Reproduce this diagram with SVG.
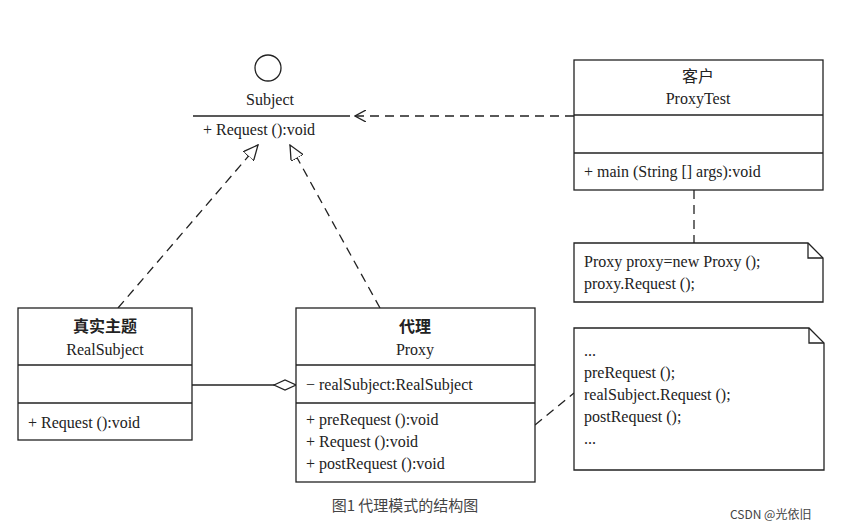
<svg xmlns="http://www.w3.org/2000/svg" width="842" height="530" viewBox="0 0 842 530">
<style>
.b{fill:#fff;stroke:#222;stroke-width:1.3}
.l{stroke:#222;stroke-width:1.3;fill:none}
.d{stroke:#222;stroke-width:1.3;fill:none;stroke-dasharray:9 6}
.t{font-family:'Liberation Serif','Times New Roman','DejaVu Serif','Noto Sans CJK SC',serif;font-size:16px;fill:#222}
.c{text-anchor:middle}
.cap{font-family:'Noto Sans CJK SC','Liberation Sans',sans-serif;fill:#444}
</style>
<defs>
<marker id="open" viewBox="0 0 12 12" refX="11" refY="6" markerWidth="12" markerHeight="12" markerUnits="userSpaceOnUse" orient="auto"><path d="M0 0 L11 6 L0 12" fill="none" stroke="#222" stroke-width="1.3"/></marker>
<marker id="tri" viewBox="0 0 16 14" refX="15" refY="7" markerWidth="16" markerHeight="14" markerUnits="userSpaceOnUse" orient="auto"><path d="M0 0 L15 7 L0 14 Z" fill="#fff" stroke="#222" stroke-width="1.3"/></marker>
<marker id="dia" viewBox="0 0 24 12" refX="23" refY="6" markerWidth="24" markerHeight="12" markerUnits="userSpaceOnUse" orient="auto"><path d="M1 6 L12 1 L23 6 L12 11 Z" fill="#fff" stroke="#222" stroke-width="1.3"/></marker>
</defs>
<g id="connectors">
<line class="d" x1="574" y1="116" x2="355" y2="116" marker-end="url(#open)"/>
<line class="d" x1="118" y1="308" x2="258" y2="145" marker-end="url(#tri)"/>
<line class="d" x1="380" y1="308" x2="290" y2="145" marker-end="url(#tri)"/>
<line class="l" x1="192" y1="385" x2="296" y2="385" marker-end="url(#dia)"/>
<line class="d" x1="694" y1="190" x2="694" y2="243"/>
<line class="d" x1="535" y1="425" x2="574" y2="393"/>
</g>
<g id="subject" class="t">
<circle class="b" cx="268" cy="68" r="13"/>
<line class="l" x1="193" y1="116" x2="350" y2="116"/>
<text class="c" x="270" y="105">Subject</text>
<text x="203" y="135">+ Request ():void</text>
</g>
<g id="proxytest" class="t">
<rect class="b" x="574" y="60" width="249" height="130"/>
<line class="l" x1="574" y1="115" x2="823" y2="115"/>
<line class="l" x1="574" y1="153" x2="823" y2="153"/>
<text class="c" x="698" y="82">客户</text>
<text class="c" x="698" y="104">ProxyTest</text>
<text x="584" y="177">+ main (String [] args):void</text>
</g>
<g id="note1" class="t">
<path class="b" d="M574 243 H808 L823 258 V302 H574 Z"/>
<path class="l" d="M808 243 V258 H823"/>
<text x="584" y="267">Proxy proxy=new Proxy ();</text>
<text x="584" y="289">proxy.Request ();</text>
</g>
<g id="note2" class="t">
<path class="b" d="M574 328 H809 L824 343 V470 H574 Z"/>
<path class="l" d="M809 328 V343 H824"/>
<text x="584" y="356">...</text>
<text x="584" y="378">preRequest ();</text>
<text x="584" y="400">realSubject.Request ();</text>
<text x="584" y="422">postRequest ();</text>
<text x="584" y="444">...</text>
</g>
<g id="realsubject" class="t">
<rect class="b" x="18" y="308" width="174" height="132"/>
<line class="l" x1="18" y1="365" x2="192" y2="365"/>
<line class="l" x1="18" y1="403" x2="192" y2="403"/>
<text class="c" x="105" y="332" font-weight="bold">真实主题</text>
<text class="c" x="105" y="355">RealSubject</text>
<text x="28" y="428">+ Request ():void</text>
</g>
<g id="proxy" class="t">
<rect class="b" x="296" y="308" width="239" height="174"/>
<line class="l" x1="296" y1="365" x2="535" y2="365"/>
<line class="l" x1="296" y1="403" x2="535" y2="403"/>
<text class="c" x="415" y="332" font-weight="bold">代理</text>
<text class="c" x="415" y="355">Proxy</text>
<text x="306" y="390">− realSubject:RealSubject</text>
<text x="306" y="425">+ preRequest ():void</text>
<text x="306" y="447">+ Request ():void</text>
<text x="306" y="469">+ postRequest ():void</text>
</g>
<text class="cap c" x="405" y="511" font-size="15">图1 代理模式的结构图</text>
<text class="cap" x="730" y="519" font-size="12" fill="#888">CSDN @光依旧</text>
</svg>
